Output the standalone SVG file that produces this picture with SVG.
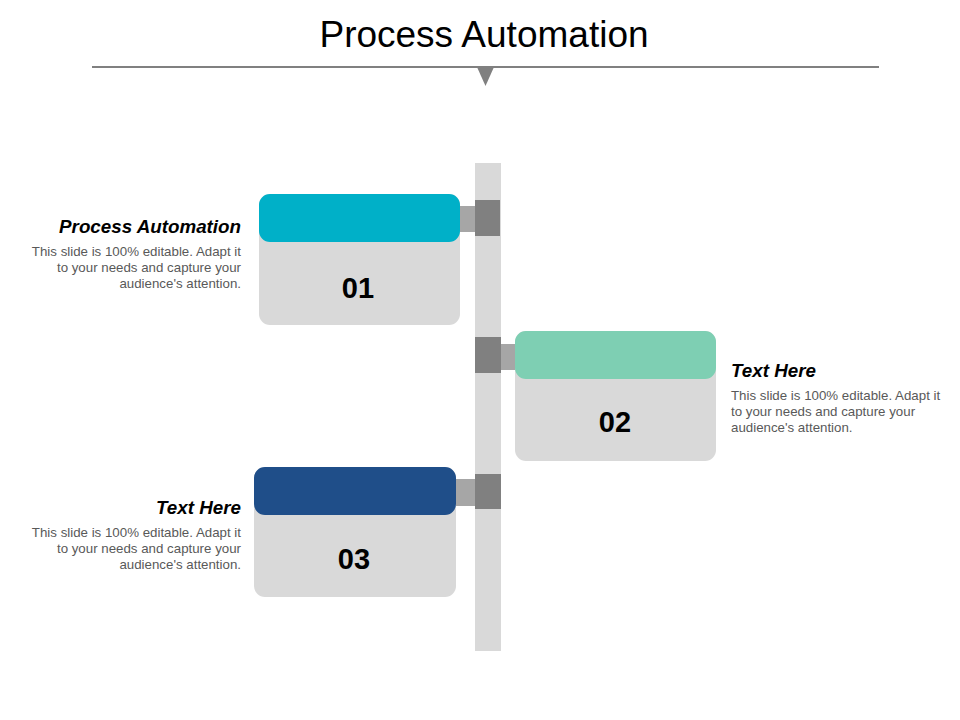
<svg xmlns="http://www.w3.org/2000/svg" width="960" height="720" viewBox="0 0 960 720">
<style>
.title{font-family:"Liberation Sans",Arial,sans-serif;font-size:37px;fill:#000}
.head{font-family:"Liberation Sans",Arial,sans-serif;font-size:18.8px;font-weight:bold;font-style:italic;fill:#000}
.body{font-family:"Liberation Sans",Arial,sans-serif;font-size:13.3px;fill:#595959}
.num{font-family:"Liberation Sans",Arial,sans-serif;font-size:29px;font-weight:bold;fill:#000;text-anchor:middle}
.card{fill:#d9d9d9}
.stub{fill:#a6a6a6}
.knob{fill:#808080}
</style>
<rect width="960" height="720" fill="#fff"/>
<g id="header">
<text class="title" x="484" y="47" text-anchor="middle">Process Automation</text>
<line x1="92" y1="67" x2="879" y2="67" stroke="#808080" stroke-width="2"/>
<polygon points="477,67 494,67 485.5,86" fill="#808080"/>
</g>
<g id="spine">
<rect x="475" y="163" width="26" height="488" fill="#d9d9d9"/>
</g>
<g id="connectors">
<rect class="stub" x="459" y="206" width="17" height="26"/>
<rect class="knob" x="475" y="200" width="25" height="36"/>
<rect class="stub" x="500" y="344" width="16" height="26"/>
<rect class="knob" x="475" y="337" width="26" height="36"/>
<rect class="stub" x="455" y="479" width="21" height="27"/>
<rect class="knob" x="475" y="474" width="26" height="35"/>
</g>
<g id="node1">
<rect class="card" x="259" y="194" width="201" height="131" rx="11"/>
<path d="M259,242 V205 a11,11 0 0 1 11,-11 H449 a11,11 0 0 1 11,11 V231 a11,11 0 0 1 -11,11 H270 a11,11 0 0 1 -11,-11 Z" fill="#00b0c8"/>
<text class="num" x="358" y="298">01</text>
<text class="head" x="241" y="233" text-anchor="end">Process Automation</text>
<text class="body" text-anchor="end"><tspan x="241" y="256">This slide is 100% editable. Adapt it</tspan><tspan x="241" y="272">to your needs and capture your</tspan><tspan x="241" y="288">audience's attention.</tspan></text>
</g>
<g id="node2">
<rect class="card" x="515" y="331" width="201" height="130" rx="11"/>
<path d="M515,379 V342 a11,11 0 0 1 11,-11 H705 a11,11 0 0 1 11,11 V368 a11,11 0 0 1 -11,11 H526 a11,11 0 0 1 -11,-11 Z" fill="#7ecfb3"/>
<text class="num" x="615" y="432">02</text>
<text class="head" x="731" y="377">Text Here</text>
<text class="body"><tspan x="731" y="400">This slide is 100% editable. Adapt it</tspan><tspan x="731" y="416">to your needs and capture your</tspan><tspan x="731" y="432">audience's attention.</tspan></text>
</g>
<g id="node3">
<rect class="card" x="254" y="467" width="202" height="130" rx="11"/>
<path d="M254,515 V478 a11,11 0 0 1 11,-11 H445 a11,11 0 0 1 11,11 V504 a11,11 0 0 1 -11,11 H265 a11,11 0 0 1 -11,-11 Z" fill="#1f4e89"/>
<text class="num" x="354" y="569">03</text>
<text class="head" x="241" y="514" text-anchor="end">Text Here</text>
<text class="body" text-anchor="end"><tspan x="241" y="537">This slide is 100% editable. Adapt it</tspan><tspan x="241" y="553">to your needs and capture your</tspan><tspan x="241" y="569">audience's attention.</tspan></text>
</g>
</svg>
